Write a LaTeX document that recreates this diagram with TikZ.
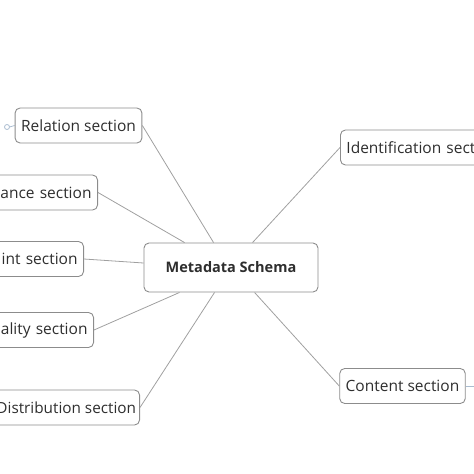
\documentclass[tikz,border=0pt]{standalone}
\usepackage{fontspec}
\setmainfont{Open Sans}
\usetikzlibrary{backgrounds}
\definecolor{txt}{HTML}{2E2E2E}
\definecolor{edgec}{HTML}{8C8C8C}
\definecolor{lnk}{HTML}{A0A0A0}
\definecolor{markc}{HTML}{A9BCD0}
\begin{document}
\begin{tikzpicture}[x=1pt,y=-1pt,
  box/.style={draw=edgec,line width=0.9pt,rounded corners=5pt,fill=white,text=txt,
    font=\fontsize{15.5}{18}\selectfont,inner xsep=6pt,inner ysep=0pt,minimum height=35pt},
  root/.style={box,font=\fontsize{14.5}{18}\selectfont\bfseries,minimum width=174pt,minimum height=49pt},
  link/.style={draw=lnk,line width=0.8pt},
  marker/.style={draw=markc,line width=0.8pt}]
\useasboundingbox (0,0) rectangle (474,474);
\clip (0,0) rectangle (474,474);
\node[root] (c) at (231,267.5) {Metadata Schema};
\node[box] (rel) at (78.5,125.5) {Relation section};
\node[box,text width=130pt,align=right,anchor=east] (mai) at (98,192.5) {ance section};
\node[box,text width=120pt,align=right,anchor=east] (con) at (84,259) {int section};
\node[box,text width=130pt,align=right,anchor=east] (qua) at (94,330) {ality section};
\node[box,anchor=east,inner xsep=3.5pt,font=\fontsize{15.3}{18}\selectfont] (dis) at (140,407.5) {Distribution section};
\node[box,text width=150pt,align=left,anchor=west] (ide) at (340,147.5) {Identification sect};
\node[box] (cnt) at (402.5,386) {Content section};
\coordinate (lm) at (7,127);
\coordinate (rm) at (474,386);
\begin{scope}[on background layer]
\draw[link] (rel.east) -- ([xshift=70pt]c.north west);
\draw[link] (mai.east) -- ([xshift=41pt]c.north west);
\draw[link] (con.east) -- ([yshift=4.5pt]c.west);
\draw[link] (qua.east) -- ([xshift=36pt]c.south west);
\draw[link] (dis.east) -- ([xshift=71pt]c.south west);
\draw[link] (ide.west) -- ([xshift=109pt]c.north west);
\draw[link] (cnt.west) -- ([xshift=111pt]c.south west);
\draw[marker] (rel.west) -- ([xshift=2.5pt]lm);
\draw[marker] (cnt.east) -- (rm);
\end{scope}
\draw[marker] (lm) circle (2.5pt);
\end{tikzpicture}
\end{document}
